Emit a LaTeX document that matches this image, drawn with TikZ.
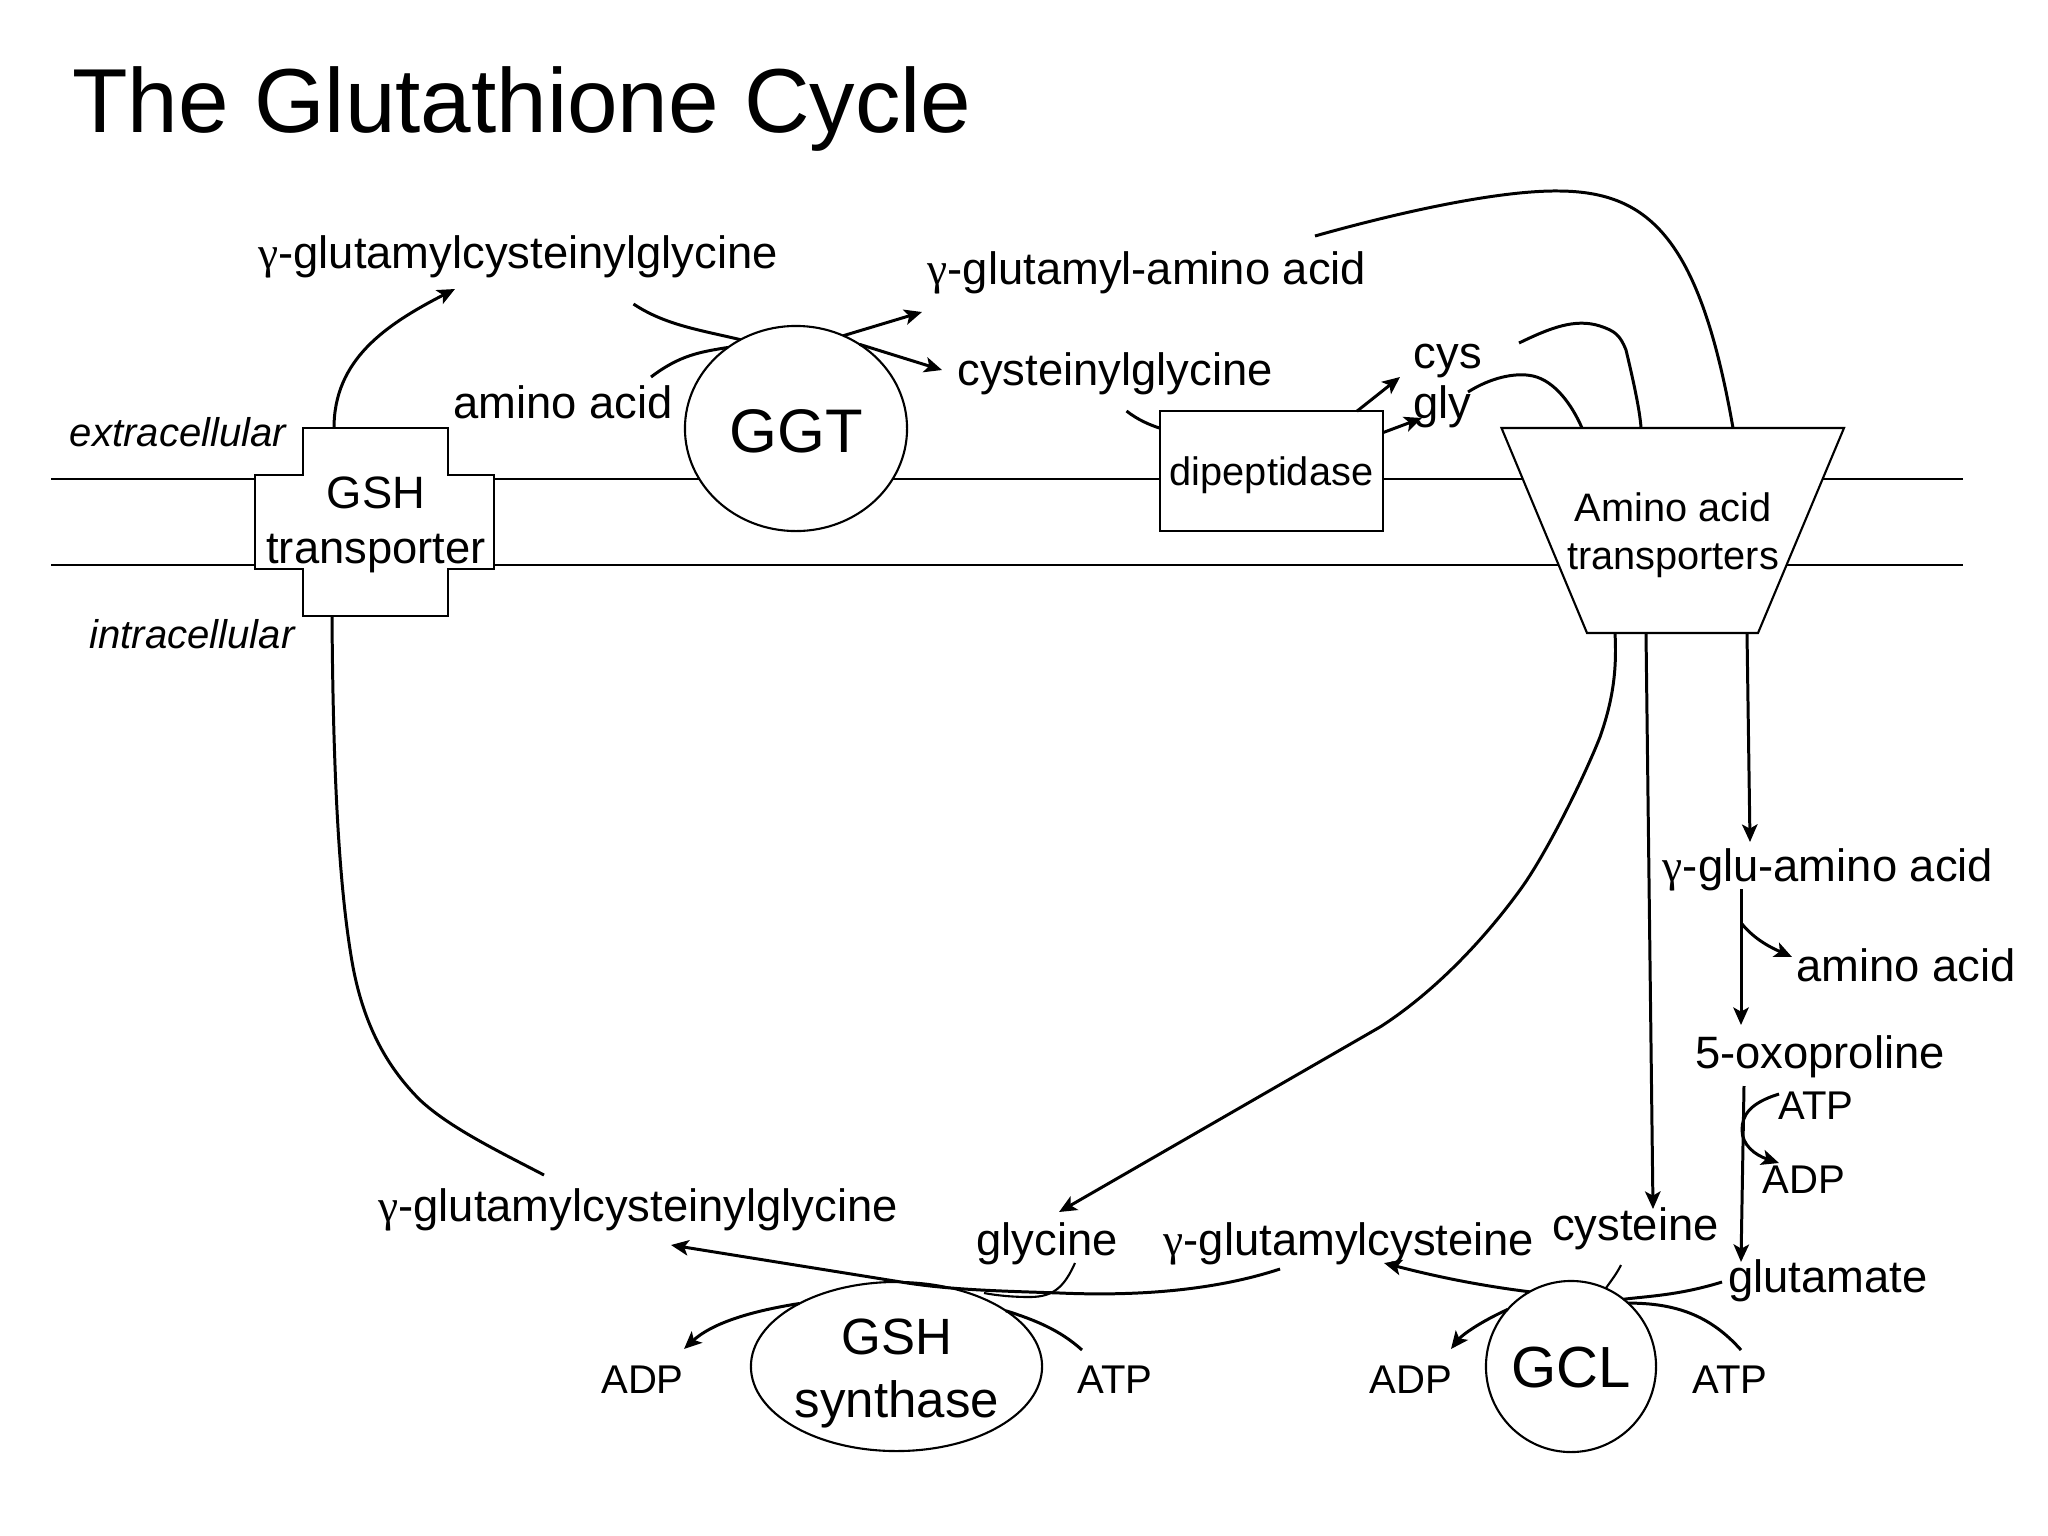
\documentclass[tikz,border=0pt]{standalone}
\usepackage{fontspec}
\setmainfont{Liberation Sans}
\newfontfamily\greekfont{Liberation Serif}
\usetikzlibrary{arrows.meta,shapes.geometric}
\newcommand{\gam}{{\greekfont γ}}
\tikzset{
  lbl/.style={anchor=base,inner sep=0pt,font=\fontsize{12.9}{15.4}\selectfont},
  smalllbl/.style={anchor=base,inner sep=0pt,font=\fontsize{11.4}{13}\selectfont},
  sidelbl/.style={anchor=base,inner sep=0pt,font=\fontsize{11.4}{13}\itshape\selectfont},
  outline/.style={draw,fill=white,line width=0.6pt},
  enzyme/.style={outline,ellipse,inner sep=0pt,outer sep=0pt},
  conn/.style={line width=0.85pt},
  arr/.style={conn,-{Stealth[length=5pt,width=4.4pt,inset=1.2pt]}},
  thin line/.style={line width=0.6pt}
}
\begin{document}
\begin{tikzpicture}[x=0.01cm,y=-0.01cm]
  \useasboundingbox (0,0) rectangle (2048,1536);

  % Title
  \node[anchor=base,inner sep=0pt,font=\fontsize{25.85}{30}\selectfont] (title) at (522,132) {The Glutathione Cycle};

  % Membrane
  \coordinate (mema) at (51,479);
  \coordinate (memb) at (1963,479);
  \coordinate (memc) at (51,565);
  \coordinate (memd) at (1963,565);
  \draw[thin line] (mema) -- (memb);
  \draw[thin line] (memc) -- (memd);
  \node[sidelbl] (extra) at (178,446) {extracellular};
  \node[sidelbl] (intra) at (192,648) {intracellular};

  % GSH transporter
  \draw[outline] (303,428) -- (448,428) -- (448,475) -- (494,475) -- (494,569) -- (448,569)
    -- (448,616) -- (303,616) -- (303,569) -- (255,569) -- (255,475) -- (303,475) -- cycle;
  \node[align=center,inner sep=0pt,font=\fontsize{12.9}{15.7}\selectfont] (gshtrans) at (376,525) {GSH\\[0pt]transporter};
  \coordinate (gshtop) at (334,428);
  \coordinate (gshbot) at (332,616);

  % GGT and dipeptidase
  \node[enzyme,minimum width=2.22cm,minimum height=2.05cm,text height=14pt,text depth=0.6pt,font=\fontsize{17.5}{20}\selectfont] (ggt) at (796,428.5) {GGT};
  \node[outline,rectangle,inner sep=0pt,outer sep=0pt,minimum width=2.23cm,text height=21pt,text depth=13pt,
    font=\fontsize{11.3}{13}\selectfont] (dip) at (1271.5,471) {dipeptidase};

  % Amino acid transporters
  \coordinate (aata) at (1582,428);
  \coordinate (aatb) at (1641,428);
  \coordinate (aatc) at (1733,428);
  \coordinate (aatd) at (1615,633);
  \coordinate (aate) at (1646,633);
  \coordinate (aatf) at (1747,633);
  \draw[outline] (1501.5,428) -- (1844,428) -- (1758,633) -- (1587,633) -- cycle;
  \node[align=center,inner sep=0pt,font=\fontsize{11.3}{13.7}\selectfont] (aat) at (1673,535.5) {Amino acid\\transporters};

  % Extracellular labels
  \node[lbl] (gsha) at (518,268) {\gam-glutamylcysteinylglycine};
  \node[lbl] (gama) at (1147,284) {\gam-glutamyl-amino acid};
  \node[lbl] (cysgly) at (1115,385.5) {cysteinylglycine};
  \node[lbl] (amina) at (563,418) {amino acid};
  \node[lbl] (cys) at (1448,368) {cys};
  \node[lbl] (gly) at (1442,418) {gly};

  % Intracellular labels
  \node[lbl] (gluam) at (1828,881) {\gam-glu-amino acid};
  \node[lbl] (aminb) at (1906,981) {amino acid};
  \node[lbl] (oxo) at (1820,1068) {5-oxoproline};
  \node[smalllbl] (atpa) at (1816,1119) {ATP};
  \node[smalllbl] (adpa) at (1804,1193) {ADP};
  \node[lbl] (glut) at (1828,1292) {glutamate};
  \node[lbl] (cyst) at (1635.5,1240) {cysteine};
  \node[lbl] (gglc) at (1349,1255) {\gam-glutamylcysteine};
  \node[lbl] (glyc) at (1047,1255) {glycine};
  \node[lbl] (gshb) at (638,1221) {\gam-glutamylcysteinylglycine};

  % GSH synthase and GCL
  \node[enzyme,minimum width=2.91cm,minimum height=1.69cm] (syn) at (896.5,1366.5) {};
  \node[align=center,inner sep=0pt,font=\fontsize{14.5}{17.9}\selectfont] (synlbl) at (897,1373) {GSH\\synthase};
  \node[enzyme,minimum width=1.70cm,minimum height=1.71cm,text height=12.5pt,text depth=0.3pt,font=\fontsize{16.5}{20}\selectfont] (gcl) at (1571,1366.5) {GCL};
  \node[smalllbl] (adpb) at (642.5,1393) {ADP};
  \node[smalllbl] (atpb) at (1115,1393) {ATP};
  \node[smalllbl] (adpc) at (1411,1393) {ADP};
  \node[smalllbl] (atpc) at (1730,1393) {ATP};

  % Free ends
  \coordinate (e1) at (455,289);
  \coordinate (e2) at (544,1175);
  \coordinate (e3) at (633.5,304);
  \coordinate (e4) at (922,312);
  \coordinate (e5) at (942,370);
  \coordinate (e6) at (651,377);
  \coordinate (e7) at (1126.5,411);
  \coordinate (e8) at (1400,377);
  \coordinate (e9) at (1422,418);
  \coordinate (e10) at (1468,392);
  \coordinate (e11) at (1519,343);
  \coordinate (e12) at (1315,236);
  \coordinate (e13) at (1059,1212);
  \coordinate (e14) at (1653,1209);
  \coordinate (e15) at (1750,842);
  \coordinate (e16) at (1741,889);
  \coordinate (e17) at (1741,1025);
  \coordinate (e18) at (1742,924);
  \coordinate (e19) at (1792,957);
  \coordinate (e20) at (1744,1086);
  \coordinate (e21) at (1741,1262);
  \coordinate (e22) at (1779,1094);
  \coordinate (e23) at (1779,1163);
  \coordinate (e24) at (1280,1269);
  \coordinate (e25) at (671,1245);
  \coordinate (e26) at (1075,1263);
  \coordinate (e27) at (984,1293);
  \coordinate (e28) at (684,1349);
  \coordinate (e29) at (1082,1350);
  \coordinate (e30) at (1384,1263);
  \coordinate (e31) at (1621,1265);
  \coordinate (e32) at (1722,1282);
  \coordinate (e33) at (1741,1350);
  \coordinate (e34) at (1451,1349);

  % GSH export and import
  \draw[arr] (gshtop) .. controls (334,360) and (385,325) .. (e1);
  \draw[conn] (gshbot) .. controls (333,760) and (338,885) .. (353,967) .. controls (365,1030) and (390,1070) .. (420,1100) .. controls (450,1128) and (500,1152) .. (e2);

  % GGT reaction
  \draw[conn] (e3) .. controls (665,325) and (700,330) .. (ggt.122);
  \draw[conn] (e6) .. controls (680,355) and (700,352) .. (ggt.130);
  \draw[arr] (ggt.63) -- (e4);
  \draw[arr] (ggt.53) -- (e5);

  % Dipeptidase reaction
  \draw[conn] (e7) .. controls (1138,420) and (1150,425) .. (dip.159);
  \draw[arr] (dip.35) -- (e8);
  \draw[arr] (dip.19) -- (e9);

  % Into the amino acid transporters
  \draw[conn] (e10) .. controls (1490,378) and (1515,372) .. (1533,376) .. controls (1555,381) and (1572,405) .. (aata);
  \draw[conn] (e11) .. controls (1550,328) and (1575,318) .. (1600,326) .. controls (1615,331) and (1620,335) .. (1626,350) .. controls (1632,375) and (1640,410) .. (aatb);
  \draw[conn] (e12) .. controls (1400,212) and (1500,190) .. (1560,191) .. controls (1650,192) and (1700,240) .. (aatc);

  % Out of the amino acid transporters
  \draw[arr] (aatd) .. controls (1617,670) and (1613,700) .. (1600,737) .. controls (1583,780) and (1545,856) .. (1520,890) .. controls (1480,945) and (1430,995) .. (1380,1027) -- (e13);
  \draw[arr] (aate) -- (e14);
  \draw[arr] (aatf) -- (e15);

  % Glutamate branch
  \draw[arr] (e16) -- (e17);
  \draw[arr] (e18) .. controls (1755,940) and (1772,948) .. (e19);
  \draw[arr] (e20) -- (e21);
  \draw[arr] (e22) .. controls (1750,1103) and (1742,1115) .. (1742,1130) .. controls (1742,1145) and (1755,1155) .. (e23);

  % GCL reaction
  \draw[arr] (gcl.119) .. controls (1475,1285) and (1430,1275) .. (e30);
  \draw[thin line] (e31) .. controls (1616,1275) and (1610,1282) .. (gcl.66.5);
  \draw[conn] (e32) .. controls (1680,1295) and (1650,1296) .. (gcl.52);
  \draw[conn] (e33) .. controls (1710,1315) and (1675,1303) .. (gcl.48.5);
  \draw[arr] (gcl.138) .. controls (1480,1322) and (1462,1335) .. (e34);

  % GSH synthase reaction
  \draw[arr] (e24) .. controls (1210,1292) and (1130,1296) .. (1060,1293) .. controls (1000,1291) and (950,1290) .. (901,1282) -- (e25);
  \draw[thin line] (e26) .. controls (1065,1285) and (1055,1297) .. (1030,1297) .. controls (1015,1297) and (1000,1296) .. (e27);
  \draw[arr] (syn.147) .. controls (745,1312) and (710,1325) .. (e28);
  \draw[conn] (e29) .. controls (1060,1330) and (1035,1320) .. (syn.27.6);
\end{tikzpicture}
\end{document}
